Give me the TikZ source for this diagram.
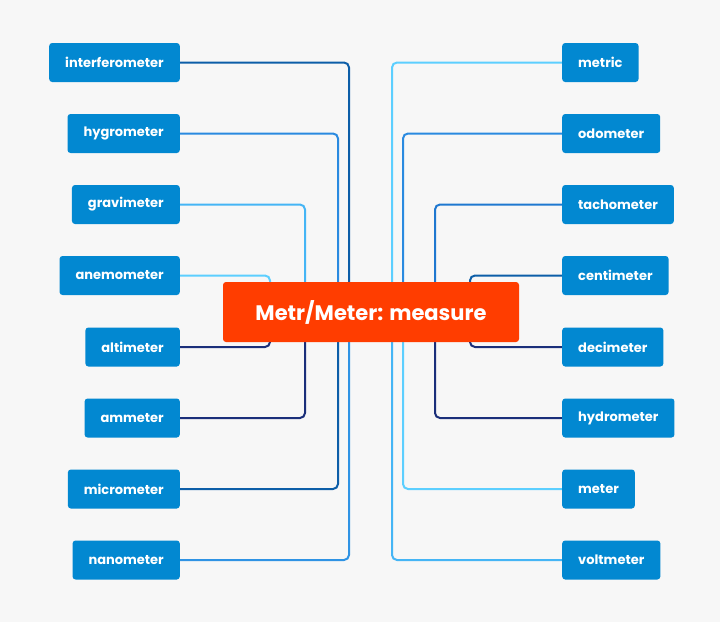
\documentclass[tikz,border=0pt]{standalone}
\usepackage{fontspec}
\setmainfont{Poppins}
\usetikzlibrary{backgrounds}
\definecolor{bg}{HTML}{F7F7F7}
\definecolor{leaf}{HTML}{0288D1}
\definecolor{hub}{HTML}{FF3D00}
\definecolor{cA}{HTML}{0D5EA8}
\definecolor{cB}{HTML}{2A8AE0}
\definecolor{cC}{HTML}{45B5F5}
\definecolor{cD}{HTML}{5CCFFF}
\definecolor{cN}{HTML}{1B2F7A}
\definecolor{cM}{HTML}{1F78D0}
\tikzset{
  leafbox/.style={fill=leaf, text=white, rounded corners=3pt, minimum height=39pt, inner xsep=16pt, font=\fontsize{13}{16}\selectfont\bfseries},
  hubbox/.style={fill=hub, text=white, rounded corners=3pt, minimum height=60pt, minimum width=296pt, font=\fontsize{21}{26}\selectfont\bfseries},
  link/.style={line width=2pt, rounded corners=5pt}
}
\begin{document}
\begin{tikzpicture}[x=1pt,y=-1pt]
\useasboundingbox (0,0) rectangle (720,622);
\node[hubbox] (C) at (371,312) {Metr/Meter: measure};
\node[leafbox, anchor=east] (L1) at (180,62.5) {interferometer};
\node[leafbox, anchor=east] (L2) at (180,133.5) {hygrometer};
\node[leafbox, anchor=east] (L3) at (180,204.5) {gravimeter};
\node[leafbox, anchor=east] (L4) at (180,275.5) {anemometer};
\node[leafbox, anchor=east] (L5) at (180,347) {altimeter};
\node[leafbox, anchor=east] (L6) at (180,418) {ammeter};
\node[leafbox, anchor=east] (L7) at (180,489) {micrometer};
\node[leafbox, anchor=east] (L8) at (180,560) {nanometer};
\node[leafbox, anchor=west] (R1) at (562,62.5) {metric};
\node[leafbox, anchor=west] (R2) at (562,133.5) {odometer};
\node[leafbox, anchor=west] (R3) at (562,204.5) {tachometer};
\node[leafbox, anchor=west] (R4) at (562,275.5) {centimeter};
\node[leafbox, anchor=west] (R5) at (562,347) {decimeter};
\node[leafbox, anchor=west] (R6) at (562,418) {hydrometer};
\node[leafbox, anchor=west] (R7) at (562,489) {meter};
\node[leafbox, anchor=west] (R8) at (562,560) {voltmeter};
\begin{scope}[on background layer]
\fill[bg] (0,0) rectangle (720,622);
\draw[link, cA] (C.center -| 349,0) |- (L1.east);
\draw[link, cB] (C.center -| 338,0) |- (L2.east);
\draw[link, cC] (C.center -| 305,0) |- (L3.east);
\draw[link, cD] (C.center -| 270,0) |- (L4.east);
\draw[link, cN] (C.center -| 270,0) |- (L5.east);
\draw[link, cN] (C.center -| 305,0) |- (L6.east);
\draw[link, cA] (C.center -| 338,0) |- (L7.east);
\draw[link, cB!80!cC] (C.center -| 349,0) |- (L8.east);
\draw[link, cD] (C.center -| 392,0) |- (R1.west);
\draw[link, cB] (C.center -| 403,0) |- (R2.west);
\draw[link, cM] (C.center -| 435,0) |- (R3.west);
\draw[link, cA] (C.center -| 470,0) |- (R4.west);
\draw[link, cN] (C.center -| 470,0) |- (R5.west);
\draw[link, cN] (C.center -| 435,0) |- (R6.west);
\draw[link, cD] (C.center -| 403,0) |- (R7.west);
\draw[link, cC] (C.center -| 392,0) |- (R8.west);
\end{scope}
\end{tikzpicture}
\end{document}
